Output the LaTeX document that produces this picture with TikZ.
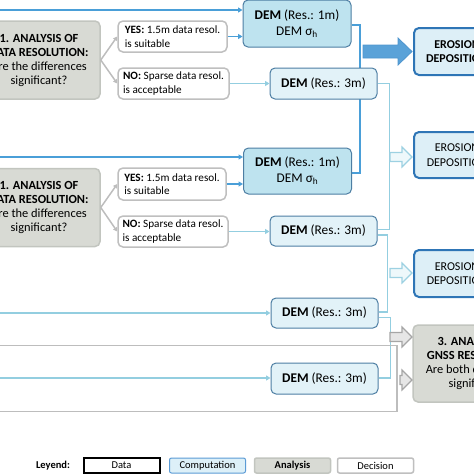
\documentclass[tikz,border=0pt]{standalone}
\usepackage{fontspec}
\setmainfont{Carlito}
\usetikzlibrary{arrows.meta,calc}
\pgfdeclarelayer{background}
\pgfsetlayers{background,main}
\definecolor{anaF}{HTML}{D8DAD4}
\definecolor{anaB}{HTML}{C2C5BF}
\definecolor{decB}{HTML}{BFBFBF}
\definecolor{demB}{HTML}{4D7EA3}
\definecolor{demAF}{HTML}{BEE3EF}
\definecolor{demBF}{HTML}{E2F2F8}
\definecolor{erB}{HTML}{2E75B6}
\definecolor{erF}{HTML}{DDEFF7}
\definecolor{blueL}{HTML}{4A9FD8}
\definecolor{lightL}{HTML}{93CEE0}
\definecolor{grayL}{HTML}{BDBDBD}
\definecolor{bigF}{HTML}{5AA2D8}
\definecolor{bigB}{HTML}{4E95CE}
\definecolor{hlB}{HTML}{9DD1E2}
\definecolor{hlF}{HTML}{EEF8FB}
\definecolor{hgB}{HTML}{A6A6A6}
\definecolor{hgF}{HTML}{E6E6E6}
\definecolor{compB}{HTML}{5B9BD5}
\definecolor{compF}{HTML}{DDF0F8}
\newcommand\hollowarr[4]{\draw[#4] (#1,#2) ++(0,-4.5) -- ++({#3-10},0) -- ++(0,-5.5) -- ++(10,10) -- ++(-10,10) -- ++(0,-5.5) -- ++({-(#3-10)},0) -- cycle;}
\begin{document}
\begin{tikzpicture}[x=1pt,y=-1pt,
  box/.style={rounded corners=5pt, inner sep=0pt, align=center},
  ana/.style={box, draw=anaB, fill=anaF, line width=1.5pt, minimum width=122pt, minimum height=78pt, font=\fontsize{12.4}{14}\selectfont},
  dec/.style={box, draw=decB, fill=white, line width=1.5pt, font=\fontsize{11.2}{13.5}\selectfont, align=left, minimum width=109pt, minimum height=31pt},
  dema/.style={box, draw=demB, fill=demAF, line width=1pt, minimum width=108pt, minimum height=46pt, font=\fontsize{13.3}{16}\selectfont},
  demb/.style={box, draw=demB, fill=demBF, line width=1pt, minimum width=107pt, minimum height=30pt, font=\fontsize{13.3}{16}\selectfont},
  eros/.style={box, draw=erB, fill=erF, line width=2pt, minimum width=86pt, minimum height=47pt, font=\fontsize{12}{14.5}\selectfont},
  leg/.style={inner sep=0pt, minimum width=76pt, minimum height=15pt, font=\fontsize{10.5}{12}\selectfont},
  arr/.style={-{Triangle[length=4.5pt,width=5pt]}},
  bl/.style={draw=blueL, line width=1.5pt},
  lt/.style={draw=lightL, line width=1.5pt},
  gl/.style={draw=grayL, line width=1.5pt},
  gc/.style={draw=grayL, line width=1.5pt, -{Triangle[length=4pt,width=4.5pt]}}
]
\useasboundingbox (0,0) rectangle (474,474);
\clip (0,0) rectangle (474,474);

% analysis boxes
\node[ana] (ana1) at (39,60) {\textbf{1. ANALYSIS OF}\\\textbf{DATA RESOLUTION:}\\Are the differences\\significant?};
\node[ana] (ana2) at (39,207.5) {\textbf{1. ANALYSIS OF}\\\textbf{DATA RESOLUTION:}\\Are the differences\\significant?};
\node[ana, minimum width=128pt, minimum height=77pt] (ana3) at (477,363.5) {\textbf{3. ANALYSIS OF}\\\textbf{GNSS RESOLUTION:}\\Are both differences\\significant?};

% decision boxes
\node[dec] (yes1) at (172.5,36.5) {\textbf{YES:} 1.5m data resol.\\is suitable};
\node[dec, minimum width=111pt] (no1) at (173.5,83.5) {\textbf{NO:} Sparse data resol.\\is acceptable};
\node[dec, minimum width=108pt, minimum height=32pt] (yes2) at (172,184) {\textbf{YES:} 1.5m data resol.\\is suitable};
\node[dec, minimum width=110pt] (no2) at (173,231.5) {\textbf{NO:} Sparse data resol.\\is acceptable};

% DEM boxes
\node[dema, minimum height=47pt] (dem11) at (297,23.5) {\textbf{DEM} (Res.: 1m)\\DEM σ\textsubscript{h}};
\node[dema] (dem12) at (297.5,171) {\textbf{DEM} (Res.: 1m)\\DEM σ\textsubscript{h}};
\node[demb, minimum height=31pt] (dem31) at (323.5,83.5) {\textbf{DEM} (Res.: 3m)};
\node[demb] (dem32) at (323.5,231) {\textbf{DEM} (Res.: 3m)};
\node[demb] (dem33) at (324.5,313) {\textbf{DEM} (Res.: 3m)};
\node[demb, minimum height=31pt] (dem34) at (324.5,378.5) {\textbf{DEM} (Res.: 3m)};

% erosion boxes
\node[eros] (er1) at (457,51.5) {\textbf{EROSION}\\\textbf{DEPOSITION}};
\node[eros, minimum height=46pt] (er2) at (457,155) {EROSION\\DEPOSITION};
\node[eros] (er3) at (457,273.5) {EROSION\\DEPOSITION};

% free ends on the left
\coordinate (l1) at (-5,10);
\coordinate (l2) at (-5,157);
\coordinate (l3) at (-5,313);
\coordinate (l4) at (-5,378);
\coordinate (g1) at (-5,345.5);
\coordinate (g2) at (-5,411.5);

% inputs
\draw[bl, arr] (l1) -- (l1 -| dem11.west);
\draw[bl, arr] (l2) -- (l2 -| dem12.west);
\draw[lt, arr] (l3) -- (l3 -| dem33.west);
\draw[lt, arr] (l4) -- (l4 -| dem34.west);
\draw[gl] (g1) -- (397,345.5) -- (397,411.5) -- (g2);

% analysis -> decisions
\draw[gc] (ana1.east) -- (yes1.west);
\draw[gc] (ana1.east) -- (no1.west);
\draw[gc] (ana2.east) -- (yes2.west);
\draw[gc] (ana2.east) -- (no2.west);

% decisions -> DEMs
\draw[bl, arr] (yes1.east) -- (yes1.east -| dem11.west);
\draw[lt, arr] (no1.east) -- (no1.east -| dem31.west);
\draw[bl, arr] (yes2.east) -- (yes2.east -| dem12.west);
\draw[lt, arr] (no2.east) -- (no2.east -| dem32.west);

% joining lines (behind the boxes)
\begin{pgfonlayer}{background}
\draw[draw=blueL, line width=2pt] ([yshift=-1.5pt]dem11.east) -- ++(8,0) |- ([yshift=-2pt]dem12.east);
\draw[lt] (dem31.east) -- ++(12,0) |- ([yshift=1.5pt]dem32.east);
\draw[lt] ([yshift=-4pt]dem32.east) -- ++(10,0) |- ([yshift=1pt]dem33.east);
\draw[lt] ([yshift=-4.5pt]dem33.east) -- ++(12,0) |- ([yshift=0.5pt]dem34.east);
\end{pgfonlayer}

% big arrow
\draw[fill=bigF, draw=bigB, line width=0.8pt] (363,45) -- (398,45) -- (398,38) -- (412,51.5) -- (398,65) -- (398,58) -- (363,58) -- cycle;

% hollow arrows
\hollowarr{390}{157}{22}{draw=hlB, fill=hlF, line width=1.2pt}
\hollowarr{390}{273}{22}{draw=hlB, fill=hlF, line width=1.2pt}
\hollowarr{390}{337}{22}{draw=hgB, fill=hgF, line width=1.2pt}
\hollowarr{400}{380}{12}{draw=hgB, fill=hgF, line width=1.2pt}

% legend
\node[font=\fontsize{10.5}{12}\selectfont\bfseries, inner sep=0pt] (leyend) at (53,466) {Leyend:};
\node[leg, draw=black, line width=2pt, fill=white] (ldata) at (121.5,465.5) {Data};
\node[leg, draw=compB, fill=compF, line width=1pt, rounded corners=2pt] (lcomp) at (207.5,465.5) {Computation};
\node[leg, draw=anaB, fill=anaF, line width=1.5pt, rounded corners=2pt, font=\fontsize{10.5}{12}\selectfont\bfseries] (lana) at (292.5,465.5) {Analysis};
\node[leg, draw=decB, fill=white, line width=1.5pt, rounded corners=2pt] (ldec) at (375.5,465.5) {Decision};
\end{tikzpicture}
\end{document}
